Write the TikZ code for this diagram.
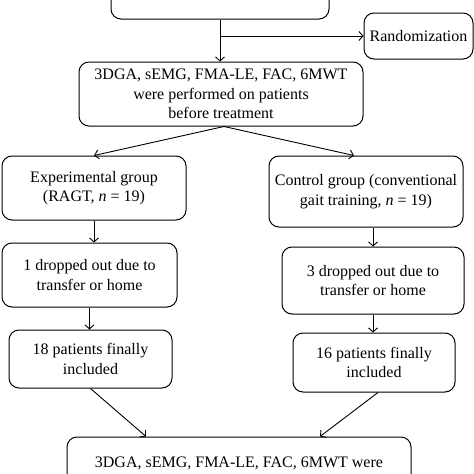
\documentclass[tikz,border=0pt]{standalone}
\usepackage{fontspec}
\setmainfont{Liberation Serif}
\usetikzlibrary{arrows.meta}
\begin{document}
\begin{tikzpicture}[x=1pt,y=-1pt,
  box/.style={draw, line width=1pt, rounded corners=10pt, inner sep=0pt, align=center, font=\fontsize{16}{19.5}\selectfont},
  txt/.style={inner sep=0pt, align=center, font=\fontsize{16}{19.5}\selectfont},
  conn/.style={draw, line width=0.9pt, -{Straight Barb[length=4pt,width=9pt]}}]
\useasboundingbox (0,0) rectangle (474,474);
\fill[white] (0,0) rectangle (474,474);
\node[box, minimum width=218pt, minimum height=59pt] (top) at (220,-10.5) {};
\node[box, minimum width=109pt, minimum height=46pt] (rand) at (418.5,36) {Randomization};
\node[box, minimum width=284pt, minimum height=64pt] (pre) at (221,94) {3DGA, sEMG, FMA-LE, FAC, 6MWT\\were performed on patients\\before treatment};
\node[box, minimum width=184pt, minimum height=64pt] (exp) at (94,188) {Experimental group\\(RAGT, \textit{n} = 19)};
\node[box, minimum width=194pt, minimum height=71pt] (ctrl) at (366,191.5) {Control group (conventional\\gait training, \textit{n} = 19)};
\node[box, minimum width=175pt, minimum height=64pt] (d1) at (89.5,275) {1 dropped out due to\\transfer or home};
\node[box, minimum width=182pt, minimum height=67pt] (d3) at (373,280.5) {3 dropped out due to\\transfer or home};
\node[box, minimum width=163pt, minimum height=58pt] (f18) at (90.5,359) {18 patients finally\\included};
\node[box, minimum width=162pt, minimum height=59pt] (f16) at (374,362.5) {16 patients finally\\included};
\node[box, minimum width=344pt, minimum height=90pt] (post) at (239,482) {};
\node[txt] (postt) at (239,463) {3DGA, sEMG, FMA-LE, FAC, 6MWT were};
\coordinate (br) at (top.south |- rand.west);
\draw[conn] (top.south) -- (top.south |- pre.north);
\draw[conn] (br) -- (rand.west);
\draw[conn] ([xshift=3pt]pre.south) -- (exp.north);
\draw[conn] ([xshift=3pt]pre.south) -- ([xshift=-12pt]ctrl.north);
\draw[conn] (exp.south) -- (exp.south |- d1.north);
\draw[conn] (d1.south) -- (d1.south |- f18.north);
\draw[conn] (d3.north |- ctrl.south) -- (d3.north);
\draw[conn] (d3.south) -- (d3.south |- f16.north);
\draw[conn] (f18.south) -- ([xshift=-93pt]post.north);
\draw[conn] ([xshift=4pt]f16.south) -- ([xshift=81pt]post.north);
\end{tikzpicture}
\end{document}
